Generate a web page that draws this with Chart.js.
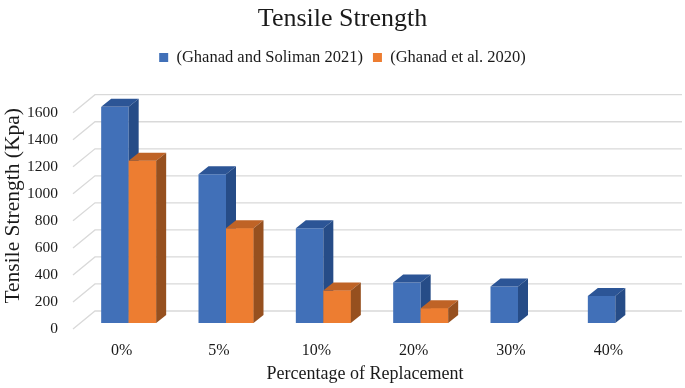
<!DOCTYPE html>
<html>
<head>
<meta charset="utf-8">
<script src="https://cdn.jsdelivr.net/npm/chart.js@4/dist/chart.umd.min.js"></script>
<style>
  html, body { margin: 0; padding: 0; background: #fff; }
  #wrap { width: 685px; height: 388px; }
</style>
</head>
<body>
<div id="wrap"><canvas id="tensileChart"></canvas></div>
<script>
// Datos del gráfico
const categories = ['0%', '5%', '10%', '20%', '30%', '40%'];
const soliman2021 = [1600, 1100, 700, 300, 270, 200];
const ghanad2020 = [1200, 700, 240, 110, null, null];
const yTicks = [0, 200, 400, 600, 800, 1000, 1200, 1400, 1600];
const yTitle = 'Tensile Strength (Kpa)';

const SERIF = "'Liberation Serif', 'Times New Roman', serif";
const TEXT = '#1a1a1a';

// desplazamiento de las barras respecto al plano frontal, y profundidad
const BAR_SHIFT = { x: 7, y: -6 };
const DEPTH = { x: 10, y: -8 };
const WALL = { x: 22, y: -18 };

const shades = [
    { top: '#2c5596', side: '#264c87' },
    { top: '#bf6326', side: '#96501f' }
];

// Pared del fondo con líneas de cuadrícula inclinadas
const wallGrid = {
    id: 'wallGrid',
    beforeDatasetsDraw(chart) {
        const { ctx, chartArea, scales } = chart;
        ctx.save();
        ctx.strokeStyle = '#d9d9d9';
        ctx.lineWidth = 1.3;
        yTicks.forEach(v => {
            const y = scales.y.getPixelForValue(v);
            ctx.beginPath();
            ctx.moveTo(chartArea.left, y);
            ctx.lineTo(chartArea.left + WALL.x, y + WALL.y);
            ctx.lineTo(chart.width - 3, y + WALL.y);
            ctx.stroke();
        });
        ctx.restore();
    },
    // las barras se dibujan un poco más atrás que el plano frontal
    beforeDatasetDraw(chart) {
        chart.ctx.save();
        chart.ctx.translate(BAR_SHIFT.x, BAR_SHIFT.y);
    },
    afterDatasetDraw(chart) {
        chart.ctx.restore();
    }
};

function drawFaces(ctx, bar, shade) {
    const p = bar.getProps(['x', 'y', 'base', 'width'], true);
    const x0 = p.x - p.width / 2, x1 = p.x + p.width / 2;
    ctx.fillStyle = shade.top;
    ctx.beginPath();
    ctx.moveTo(x0, p.y);
    ctx.lineTo(x1, p.y);
    ctx.lineTo(x1 + DEPTH.x, p.y + DEPTH.y);
    ctx.lineTo(x0 + DEPTH.x, p.y + DEPTH.y);
    ctx.closePath();
    ctx.fill();
    ctx.fillStyle = shade.side;
    ctx.beginPath();
    ctx.moveTo(x1, p.y);
    ctx.lineTo(x1 + DEPTH.x, p.y + DEPTH.y);
    ctx.lineTo(x1 + DEPTH.x, p.base + DEPTH.y);
    ctx.lineTo(x1, p.base);
    ctx.closePath();
    ctx.fill();
}

// Caras superior y lateral; la barra naranja se vuelve a pintar encima
const bars3d = {
    id: 'bars3d',
    afterDatasetsDraw(chart) {
        const ctx = chart.ctx;
        ctx.save();
        ctx.translate(BAR_SHIFT.x, BAR_SHIFT.y);
        categories.forEach((c, i) => {
            chart.data.datasets.forEach((ds, d) => {
                if (ds.data[i] === null) return;
                const bar = chart.getDatasetMeta(d).data[i];
                if (d > 0) bar.draw(ctx);
                drawFaces(ctx, bar, shades[d]);
            });
        });
        ctx.restore();

        // título del eje Y
        const y = (chart.chartArea.top + chart.chartArea.bottom) / 2 - 15;
        ctx.save();
        ctx.translate(13, y);
        ctx.rotate(-Math.PI / 2);
        ctx.fillStyle = TEXT;
        ctx.font = "21.5px " + SERIF;
        ctx.textAlign = 'center';
        ctx.textBaseline = 'middle';
        ctx.fillText(yTitle, 0, 0);
        ctx.restore();
    }
};

// Espacio extra bajo la leyenda
const legendGap = {
    id: 'legendGap',
    beforeInit(chart) {
        const fit = chart.legend.fit;
        chart.legend.fit = function () {
            fit.bind(chart.legend)();
            this.height += 37;
        };
    }
};

const ctx = document.getElementById('tensileChart').getContext('2d');
new Chart(ctx, {
    type: 'bar',
    data: {
        labels: categories,
        datasets: [
            {
                label: '(Ghanad and Soliman 2021)',
                data: soliman2021,
                backgroundColor: '#4170b8'
            },
            {
                label: '(Ghanad et al. 2020)',
                data: ghanad2020,
                backgroundColor: '#ed7d31'
            }
        ]
    },
    options: {
        responsive: true,
        maintainAspectRatio: false,
        animation: false,
        layout: { padding: 0 },
        datasets: {
            bar: { barPercentage: 1, categoryPercentage: 0.565 }
        },
        plugins: {
            title: {
                display: true,
                text: 'Tensile Strength',
                color: TEXT,
                font: { family: SERIF, size: 26, weight: 'normal' },
                padding: { top: 4, bottom: 4 }
            },
            legend: {
                position: 'top',
                labels: {
                    color: TEXT,
                    font: { family: SERIF, size: 16.5 },
                    boxWidth: 9,
                    boxHeight: 9,
                    padding: 10
                }
            },
            tooltip: { enabled: false }
        },
        scales: {
            x: {
                grid: { display: false, drawTicks: false },
                border: { display: false },
                ticks: {
                    color: TEXT,
                    font: { family: SERIF, size: 16 },
                    padding: 12
                },
                title: {
                    display: true,
                    text: 'Percentage of Replacement',
                    color: TEXT,
                    font: { family: SERIF, size: 18 },
                    padding: { top: 3, bottom: 3 }
                },
                afterFit(scale) { scale.height = 59; }
            },
            y: {
                min: 0,
                max: 1600,
                grid: { display: false, drawTicks: false },
                border: { display: false },
                ticks: {
                    stepSize: 200,
                    color: TEXT,
                    font: { family: SERIF, size: 15.5 },
                    padding: 15,
                    callback: v => String(v)
                },
                afterFit(scale) { scale.width = 73; }
            },
            // eje vacío a la derecha: deja sitio para la pared del fondo
            yRight: {
                position: 'right',
                grid: { display: false },
                border: { display: false },
                ticks: { display: false },
                afterFit(scale) { scale.width = 28; }
            }
        }
    },
    plugins: [wallGrid, bars3d, legendGap]
});
</script>
</body>
</html>
